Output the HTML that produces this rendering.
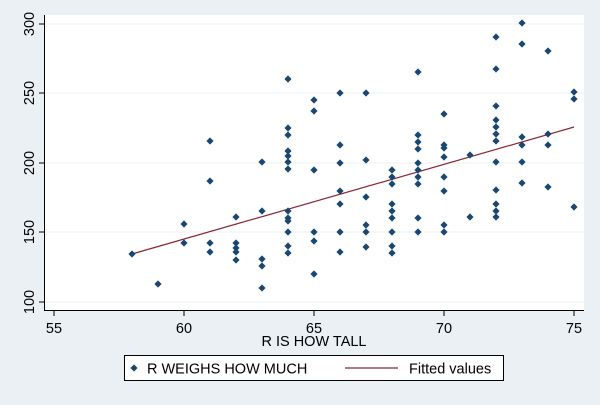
<!DOCTYPE html>
<html><head><style>
html,body{margin:0;padding:0;background:#eaf0f3;}
svg text{font-family:"Liberation Sans",Arial,sans-serif;fill:#000;}
</style></head><body>
<svg width="600" height="400" viewBox="0 0 600 400" xmlns="http://www.w3.org/2000/svg" xmlns:xlink="http://www.w3.org/1999/xlink">
<defs><path id="m" d="M0 -3.6 L3.6 0 L0 3.6 L-3.6 0Z" fill="#1a476f"/></defs>
<rect width="600" height="400" fill="#eaf0f3"/>
<rect x="44" y="15" width="540" height="295" fill="#fff"/>
<g stroke="#eaf0f3" stroke-width="1">
<line x1="45" x2="584" y1="24" y2="24"/><line x1="45" x2="584" y1="93" y2="93"/>
<line x1="45" x2="584" y1="163" y2="163"/><line x1="45" x2="584" y1="232" y2="232"/>
<line x1="45" x2="584" y1="302" y2="302"/>
</g>
<g stroke="#000" stroke-width="1">
<line x1="44.5" y1="15" x2="44.5" y2="310.5"/><line x1="44" y1="310.5" x2="584" y2="310.5"/>
<line x1="39" x2="44" y1="24" y2="24"/><line x1="39" x2="44" y1="93" y2="93"/><line x1="39" x2="44" y1="163" y2="163"/><line x1="39" x2="44" y1="232" y2="232"/><line x1="39" x2="44" y1="302" y2="302"/>
<line x1="54" x2="54" y1="311" y2="316"/><line x1="184" x2="184" y1="311" y2="316"/><line x1="314" x2="314" y1="311" y2="316"/><line x1="444" x2="444" y1="311" y2="316"/><line x1="574" x2="574" y1="311" y2="316"/>
</g>
<g font-size="14.5" text-anchor="middle">
<text transform="translate(34,24) rotate(-90)">300</text>
<text transform="translate(34,93) rotate(-90)">250</text>
<text transform="translate(34,163) rotate(-90)">200</text>
<text transform="translate(34,232) rotate(-90)">150</text>
<text transform="translate(34,302) rotate(-90)">100</text>
<text x="54" y="333">55</text><text x="184" y="333">60</text><text x="314" y="333">65</text><text x="444" y="333">70</text><text x="574" y="333">75</text>
<text x="314" y="346">R IS HOW TALL</text>
</g>
<line x1="132" y1="254" x2="574" y2="127" stroke="#8b2433" stroke-width="1.2"/>
<g>
<use xlink:href="#m" x="132" y="254"/>
<use xlink:href="#m" x="158" y="284"/>
<use xlink:href="#m" x="184" y="224"/><use xlink:href="#m" x="184" y="243"/>
<use xlink:href="#m" x="210" y="141"/><use xlink:href="#m" x="210" y="181"/><use xlink:href="#m" x="210" y="243"/><use xlink:href="#m" x="210" y="252"/>
<use xlink:href="#m" x="236" y="217"/><use xlink:href="#m" x="236" y="243"/><use xlink:href="#m" x="236" y="248"/><use xlink:href="#m" x="236" y="252"/><use xlink:href="#m" x="236" y="260"/>
<use xlink:href="#m" x="262" y="162"/><use xlink:href="#m" x="262" y="211"/><use xlink:href="#m" x="262" y="259"/><use xlink:href="#m" x="262" y="266"/><use xlink:href="#m" x="262" y="288"/>
<use xlink:href="#m" x="288" y="79"/><use xlink:href="#m" x="288" y="128"/><use xlink:href="#m" x="288" y="135"/><use xlink:href="#m" x="288" y="151"/><use xlink:href="#m" x="288" y="156"/><use xlink:href="#m" x="288" y="162"/><use xlink:href="#m" x="288" y="169"/><use xlink:href="#m" x="288" y="211"/><use xlink:href="#m" x="288" y="218"/><use xlink:href="#m" x="288" y="221"/><use xlink:href="#m" x="288" y="232"/><use xlink:href="#m" x="288" y="246"/><use xlink:href="#m" x="288" y="253"/>
<use xlink:href="#m" x="314" y="100"/><use xlink:href="#m" x="314" y="111"/><use xlink:href="#m" x="314" y="170"/><use xlink:href="#m" x="314" y="232"/><use xlink:href="#m" x="314" y="241"/><use xlink:href="#m" x="314" y="274"/>
<use xlink:href="#m" x="340" y="93"/><use xlink:href="#m" x="340" y="145"/><use xlink:href="#m" x="340" y="163"/><use xlink:href="#m" x="340" y="191"/><use xlink:href="#m" x="340" y="204"/><use xlink:href="#m" x="340" y="232"/><use xlink:href="#m" x="340" y="252"/>
<use xlink:href="#m" x="366" y="93"/><use xlink:href="#m" x="366" y="160"/><use xlink:href="#m" x="366" y="197"/><use xlink:href="#m" x="366" y="225"/><use xlink:href="#m" x="366" y="232"/><use xlink:href="#m" x="366" y="247"/>
<use xlink:href="#m" x="392" y="170"/><use xlink:href="#m" x="392" y="177"/><use xlink:href="#m" x="392" y="184"/><use xlink:href="#m" x="392" y="204"/><use xlink:href="#m" x="392" y="211"/><use xlink:href="#m" x="392" y="218"/><use xlink:href="#m" x="392" y="232"/><use xlink:href="#m" x="392" y="246"/><use xlink:href="#m" x="392" y="253"/>
<use xlink:href="#m" x="418" y="72"/><use xlink:href="#m" x="418" y="135"/><use xlink:href="#m" x="418" y="142"/><use xlink:href="#m" x="418" y="149"/><use xlink:href="#m" x="418" y="163"/><use xlink:href="#m" x="418" y="170"/><use xlink:href="#m" x="418" y="177"/><use xlink:href="#m" x="418" y="184"/><use xlink:href="#m" x="418" y="218"/><use xlink:href="#m" x="418" y="232"/>
<use xlink:href="#m" x="444" y="114"/><use xlink:href="#m" x="444" y="145"/><use xlink:href="#m" x="444" y="148"/><use xlink:href="#m" x="444" y="157"/><use xlink:href="#m" x="444" y="177"/><use xlink:href="#m" x="444" y="191"/><use xlink:href="#m" x="444" y="225"/><use xlink:href="#m" x="444" y="232"/>
<use xlink:href="#m" x="470" y="155"/><use xlink:href="#m" x="470" y="217"/>
<use xlink:href="#m" x="496" y="37"/><use xlink:href="#m" x="496" y="69"/><use xlink:href="#m" x="496" y="106"/><use xlink:href="#m" x="496" y="120"/><use xlink:href="#m" x="496" y="127"/><use xlink:href="#m" x="496" y="134"/><use xlink:href="#m" x="496" y="141"/><use xlink:href="#m" x="496" y="162"/><use xlink:href="#m" x="496" y="190"/><use xlink:href="#m" x="496" y="204"/><use xlink:href="#m" x="496" y="211"/><use xlink:href="#m" x="496" y="217"/>
<use xlink:href="#m" x="522" y="23"/><use xlink:href="#m" x="522" y="44"/><use xlink:href="#m" x="522" y="137"/><use xlink:href="#m" x="522" y="145"/><use xlink:href="#m" x="522" y="162"/><use xlink:href="#m" x="522" y="183"/>
<use xlink:href="#m" x="548" y="51"/><use xlink:href="#m" x="548" y="134"/><use xlink:href="#m" x="548" y="145"/><use xlink:href="#m" x="548" y="187"/>
<use xlink:href="#m" x="574" y="92"/><use xlink:href="#m" x="574" y="99"/><use xlink:href="#m" x="574" y="207"/>
</g>
<rect x="124.5" y="355.5" width="379" height="25" fill="#fff" stroke="#000"/>
<use xlink:href="#m" x="134" y="368"/>
<text x="147" y="373.5" font-size="14.5">R WEIGHS HOW MUCH</text>
<line x1="345" y1="368" x2="398" y2="368" stroke="#8b2433" stroke-width="1.2"/>
<text x="409" y="373.5" font-size="14.5">Fitted values</text>
</svg>
</body></html>
